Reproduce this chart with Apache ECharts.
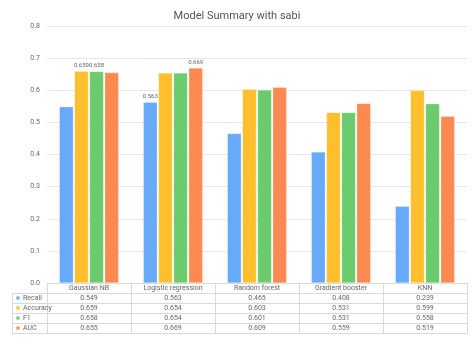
<!DOCTYPE html>
<html>
<head>
<meta charset="utf-8">
<script src="https://cdn.jsdelivr.net/npm/echarts@6/dist/echarts.min.js"></script>
<style>
  html, body { margin: 0; padding: 0; background: #fff; }
  #chart { width: 474px; height: 339px; }
</style>
</head>
<body>
<div id="chart"></div>
<script>
// data
const models = ['Gaussian NB', 'Logistic regression', 'Random forest', 'Gradient booster', 'KNN'];
const metricNames = ['Recall', 'Accuracy', 'F1', 'AUC'];
const recall   = [0.549, 0.563, 0.465, 0.408, 0.239];
const accuracy = [0.659, 0.654, 0.603, 0.531, 0.599];
const f1       = [0.658, 0.654, 0.601, 0.531, 0.558];
const auc      = [0.655, 0.669, 0.609, 0.559, 0.519];
const yTicks = [0, 0.1, 0.2, 0.3, 0.4, 0.5, 0.6, 0.7, 0.8];
// which bars carry a value label: [metric index, model index]
const labelled = [[1, 0], [2, 0], [0, 1], [3, 1]];

const colors = ['#66aaf9', '#fdbf2d', '#6ccb6c', '#fc8a50'];
const allValues = [recall, accuracy, f1, auc];

const FONT = 'Roboto';
const GRID = { left: 47, right: 7, top: 26, bottom: 56 };
const ROW = 10;
const lineColor = '#d9d9d9';

const chart = echarts.init(document.getElementById('chart'));

// table rows as extra x axes under the plot
const xAxes = [{
  type: 'category',
  data: models,
  position: 'bottom',
  axisLine: { lineStyle: { color: lineColor } },
  axisTick: { show: true, length: ROW * 5, lineStyle: { color: lineColor } },
  axisLabel: { color: '#666', fontSize: 7, fontFamily: FONT, margin: 2, interval: 0 }
}];
allValues.forEach((vals, i) => {
  xAxes.push({
    type: 'category',
    data: vals.map(v => v.toFixed(3)),
    position: 'bottom',
    offset: ROW * (i + 1),
    axisLine: { lineStyle: { color: lineColor } },
    axisTick: { show: false },
    axisLabel: { color: '#666', fontSize: 7, fontFamily: FONT, margin: 2, interval: 0 }
  });
});
xAxes.push({
  type: 'category',
  data: models.map(() => ''),
  position: 'bottom',
  offset: ROW * 5,
  axisLine: { lineStyle: { color: lineColor } },
  axisTick: { show: false },
  axisLabel: { show: false }
});

const series = allValues.map((vals, si) => ({
  name: metricNames[si],
  type: 'bar',
  xAxisIndex: 0,
  barWidth: 14,
  barGap: '8%',
  itemStyle: { color: colors[si], borderColor: 'rgba(255,255,255,0.5)', borderWidth: 0.5 },
  data: vals.map((v, mi) => {
    const show = labelled.some(p => p[0] === si && p[1] === mi);
    return {
      value: v,
      label: {
        show: show,
        position: 'top',
        distance: 3,
        color: '#666',
        fontSize: 6,
        fontFamily: FONT,
        formatter: p => p.value.toFixed(3)
      }
    };
  })
}));

// left column of the table (legend keys + borders)
const tableTop = 339 - GRID.bottom;
const tableLeft = 12;
const graphics = [];
for (let r = 1; r <= 5; r++) {
  graphics.push({
    type: 'line',
    shape: { x1: tableLeft, y1: tableTop + ROW * r + 0.5, x2: GRID.left, y2: tableTop + ROW * r + 0.5 },
    style: { stroke: lineColor, lineWidth: 1 }
  });
}
graphics.push({
  type: 'line',
  shape: { x1: tableLeft + 0.5, y1: tableTop + ROW, x2: tableLeft + 0.5, y2: tableTop + ROW * 5 },
  style: { stroke: lineColor, lineWidth: 1 }
});

chart.setOption({
  animation: false,
  color: colors,
  title: {
    text: 'Model Summary with sabi',
    left: 'center',
    top: 6,
    textStyle: { color: '#555', fontSize: 11, fontWeight: 'normal', fontFamily: FONT }
  },
  legend: {
    orient: 'vertical',
    left: tableLeft + 3,
    top: tableTop + ROW,
    itemWidth: 4,
    itemHeight: 4,
    itemGap: 0,
    icon: 'rect',
    padding: 0,
    textStyle: { color: '#666', fontSize: 7, fontFamily: FONT, lineHeight: ROW, padding: [0, 0, 0, -2] },
    data: metricNames
  },
  grid: GRID,
  xAxis: xAxes,
  yAxis: {
    type: 'value',
    min: yTicks[0],
    max: yTicks[yTicks.length - 1],
    interval: 0.1,
    axisLine: { show: false },
    axisTick: { show: false },
    axisLabel: { color: '#666', fontSize: 7, fontFamily: FONT, margin: 7, formatter: v => v.toFixed(1) },
    splitLine: { lineStyle: { color: '#e6e6e6' } }
  },
  graphic: graphics,
  series: series
});
</script>
</body>
</html>
